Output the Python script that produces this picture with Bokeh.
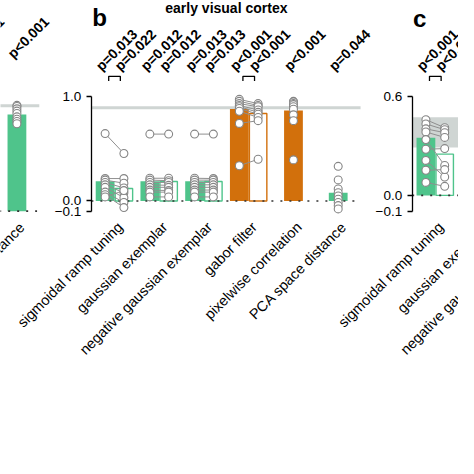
import math
from bokeh.plotting import figure
from bokeh.models import Range1d, LinearAxis, FixedTicker, CustomJSTickFormatter, ColumnDataSource
from bokeh.core.properties import value
from bokeh.embed import file_html
from bokeh.resources import INLINE

# ------------------------------------------------------------------ data
categories = ["sigmoidal ramp tuning", "gaussian exemplar", "negative gaussian exemplar",
              "gabor filter", "pixelwise correlation", "PCA space distance"]
category_family = ["green", "green", "green", "orange", "orange", "green"]

# panel b : early visual cortex
b_title = "early visual cortex"
b_bar_filled = [0.19, 0.19, 0.19, 0.881, 0.866, 0.079]
b_bar_open = [0.12, 0.187, 0.187, 0.838, None, None]
b_p_filled = ["p=0.013", "p=0.012", "p=0.013", "p<0.001", "p<0.001", "p=0.044"]
b_p_open = ["p=0.022", "p=0.012", "p=0.013", "p<0.001", None, None]
b_bracket = [True, False, False, True, False, False]
b_ceiling = (0.879, 0.907)
b_yticks = [-0.1, 0.0, 1.0]

b_sig_filled = [0.646, 0.215, 0.20, 0.178, 0.155, 0.131, 0.085, 0.06, 0.039]
b_sig_open = [0.455, 0.215, 0.171, 0.125, 0.079, 0.032, -0.014, -0.063, 0.10]
b_gauss_filled = [0.641, 0.218, 0.20, 0.178, 0.155, 0.131, 0.105, 0.085, 0.039]
b_gauss_open = [0.641, 0.218, 0.195, 0.178, 0.15, 0.131, 0.10, 0.085, 0.039]
b_neg_filled = [0.641, 0.218, 0.20, 0.178, 0.155, 0.131, 0.105, 0.085, 0.039]
b_neg_open = [0.641, 0.215, 0.20, 0.178, 0.155, 0.131, 0.105, 0.085, 0.039]
b_gabor_filled = [0.974, 0.955, 0.933, 0.915, 0.903, 0.887, 0.86, 0.743, 0.338]
b_gabor_open = [0.933, 0.915, 0.903, 0.872, 0.85, 0.831, 0.801, 0.770, 0.40]
b_pix_filled = [0.955, 0.949, 0.935, 0.924, 0.903, 0.88, 0.826, 0.770, 0.394]
b_pca_filled = [0.332, 0.202, 0.116, 0.079, 0.048, 0.017, -0.014, -0.044, -0.076]

# panel a (only its right end is in view)
a_cat_index = [4, 5]
a_bar_filled = [None, 0.84]
a_p_filled = ["p<0.001", "p<0.001"]
a_ceiling = (0.903, 0.929)
a_pca_filled = [0.92, 0.91, 0.89, 0.87, 0.85, 0.82, 0.80, 0.78, 0.76]

# panel c (only its left end is in view)
c_cat_index = [0, 1, 2]
c_bar_filled = [0.351, None, None]
c_bar_open = [0.251, None, None]
c_p_filled = ["p<0.001", None, None]
c_p_open = ["p<0.001", None, None]
c_bracket = [True, False, False]
c_ceiling = (0.292, 0.475)
c_yticks = [-0.1, 0.0, 0.6]
c_sig_filled = [0.461, 0.435, 0.405, 0.386, 0.340, 0.281, 0.213, 0.153, 0.079]
c_sig_open = [0.412, 0.40, 0.382, 0.353, 0.182, 0.285, 0.112, 0.157, 0.055]

# ------------------------------------------------------------------ layout / style
REF = 474.0
S = 458.0 / REF
DX = 46.3
B_X0 = 118.0
BAR_W = 0.42
HALF = BAR_W / 2
AXIS_GAP = 0.097
PANEL_Y = {"a": (218.0, 119.0), "default": (207.5, 108.0), "c": (201.7, 170.0)}


def ux(px):
    return (px - B_X0) / DX


def uy(rn, py):
    z, k = PANEL_Y[rn]
    return (z - py) / k


PANEL_X = {"a": ux(17.0) - 5, "default": 0.0, "c": ux(450.0)}

FONT = "Liberation Sans"
COLOR = {"green": "#4fc48b", "orange": "#d2700c"}
CEIL = "#cfd5d3"
DOT = "#333333"
PT_LINE = "#858585"
LINK = "#8f8f8f"


def fs(px):
    return f"{px * S:.2f}px"


p = figure(width=458, height=458,
           x_range=Range1d(ux(0), ux(REF)),
           y_range=Range1d(uy("default", REF), uy("default", 0)),
           output_backend="svg", toolbar_location=None,
           x_axis_location=None, y_axis_location=None,
           min_border=0, outline_line_color=None)
p.extra_y_ranges = {"a": Range1d(uy("a", REF), uy("a", 0)),
                    "c": Range1d(uy("c", REF), uy("c", 0))}
p.xgrid.visible = False
p.ygrid.visible = False


def axis_x(rn):
    return PANEL_X[rn] - BAR_W - AXIS_GAP


def draw_panel(rn, cat_idx, bar_f, bar_o, pts_f, pts_o, p_f, p_o, brackets,
               ceiling, plabel_px):
    x0 = PANEL_X[rn]
    left = axis_x(rn) if rn != "a" else ux(-20)
    right = x0 + len(categories) - 0.5
    # noise ceiling
    p.quad(left=[left], right=[right], bottom=[ceiling[0]], top=[ceiling[1]],
           fill_color=CEIL, line_color=None, y_range_name=rn)
    fb = dict(x=[], top=[], color=[])
    ob = dict(x=[], top=[], color=[])
    pts = dict(x=[], y=[])
    links = dict(x0=[], y0=[], x1=[], y1=[])
    pl = dict(x=[], y=[], t=[])
    br = dict(xs=[], ys=[])
    for k, ci in enumerate(cat_idx):
        cx = x0 + ci
        paired = bar_o is not None and bar_o[k] is not None
        xf = cx - HALF if paired else cx
        xo = cx + HALF
        col = COLOR[category_family[ci]]
        if bar_f[k] is not None:
            fb["x"].append(xf); fb["top"].append(bar_f[k]); fb["color"].append(col)
        if paired:
            ob["x"].append(xo); ob["top"].append(bar_o[k]); ob["color"].append(col)
        if pts_f[k] is not None:
            for v in pts_f[k]:
                pts["x"].append(xf); pts["y"].append(v)
        if paired and pts_o[k] is not None:
            for v0, v1 in zip(pts_f[k], pts_o[k]):
                links["x0"].append(xf); links["y0"].append(v0)
                links["x1"].append(xo); links["y1"].append(v1)
            for v in pts_o[k]:
                pts["x"].append(xo); pts["y"].append(v)
        if p_f[k] is not None:
            pl["x"].append(xf - 0.03); pl["y"].append(uy(rn, plabel_px)); pl["t"].append(p_f[k])
        if p_o is not None and p_o[k] is not None:
            pl["x"].append(xo - 0.03); pl["y"].append(uy(rn, plabel_px)); pl["t"].append(p_o[k])
        if brackets is not None and brackets[k]:
            yt, yb = uy(rn, 78.5), uy(rn, 83.3)
            br["xs"].append([cx - 0.13, cx - 0.13, cx + 0.13, cx + 0.13])
            br["ys"].append([yb, yt, yt, yb])
    p.vbar(x="x", top="top", bottom=0, width=BAR_W, fill_color="color", line_color=None,
           source=ColumnDataSource(fb), y_range_name=rn)
    if ob["x"]:
        p.vbar(x="x", top="top", bottom=0, width=BAR_W - 0.03, fill_color="white",
               line_color="color", line_width=1.4, source=ColumnDataSource(ob), y_range_name=rn)
    # dotted zero line
    p.segment(x0=[left], y0=[0], x1=[right - 0.05], y1=[0], line_color=DOT,
              line_width=1.6, line_dash="2 7", y_range_name=rn)
    if br["xs"]:
        p.multi_line(xs="xs", ys="ys", line_color="black", line_width=1.3,
                     source=ColumnDataSource(br), y_range_name=rn)
    if links["x0"]:
        p.segment(x0="x0", y0="y0", x1="x1", y1="y1", line_color=LINK, line_width=1.0,
                  source=ColumnDataSource(links), y_range_name=rn)
    p.scatter(x="x", y="y", size=8.2 * S, marker="circle", fill_color="white",
              line_color=PT_LINE, line_width=1.1, source=ColumnDataSource(pts), y_range_name=rn)
    p.text(x="x", y="y", text="t", angle=math.pi / 4, text_align="left",
           text_baseline="bottom", text_font=value(FONT), text_font_style="bold",
           text_font_size=fs(14.5), text_color="black",
           source=ColumnDataSource(pl), y_range_name=rn)
    lab = dict(x=[x0 + ci for ci in cat_idx], y=[uy(rn, 226)] * len(cat_idx),
               t=[categories[ci] for ci in cat_idx])
    p.text(x="x", y="y", text="t", angle=math.pi / 4, text_align="right",
           text_baseline="top", text_font=value(FONT), text_font_size=fs(15),
           text_color="black", source=ColumnDataSource(lab), y_range_name=rn)


def add_axis(rn, ticks):
    ax = LinearAxis(y_range_name=rn, fixed_location=axis_x(rn),
                    ticker=FixedTicker(ticks=ticks),
                    formatter=CustomJSTickFormatter(code="return tick.toFixed(1).replace('-', '\u2212')"),
                    bounds=(min(ticks), max(ticks)))
    ax.major_tick_out = 5
    ax.major_tick_in = 0
    ax.minor_tick_line_color = None
    ax.axis_line_width = 1.3
    ax.major_tick_line_width = 1.3
    ax.major_label_standoff = 5
    ax.major_label_text_font = FONT
    ax.major_label_text_font_size = fs(14)
    ax.major_label_text_color = "black"
    p.add_layout(ax, "left")


# panel a
draw_panel("a", a_cat_index, a_bar_filled, None, [None, a_pca_filled], None,
           a_p_filled, None, None, a_ceiling, 63)
# panel b
draw_panel("default", list(range(6)), b_bar_filled, b_bar_open,
           [b_sig_filled, b_gauss_filled, b_neg_filled, b_gabor_filled, b_pix_filled, b_pca_filled],
           [b_sig_open, b_gauss_open, b_neg_open, b_gabor_open, None, None],
           b_p_filled, b_p_open, b_bracket, b_ceiling, 76)
add_axis("default", b_yticks)
# panel c
draw_panel("c", c_cat_index, c_bar_filled, c_bar_open,
           [c_sig_filled, None, None], [c_sig_open, None, None],
           c_p_filled, c_p_open, c_bracket, c_ceiling, 76)
add_axis("c", c_yticks)

# title and panel letters
p.text(x=[PANEL_X["default"] + 2.5], y=[uy("default", 7.7)], text=[b_title],
       text_align="center", text_baseline="alphabetic", text_font=value(FONT),
       text_font_style="bold", text_font_size=fs(14.5), text_color="black")
p.text(x=[axis_x("default") + 0.02], y=[uy("default", 18)], text=["b"],
       text_align="left", text_baseline="alphabetic", text_font=value(FONT),
       text_font_style="bold", text_font_size=fs(25), text_color="black")
p.text(x=[axis_x("c") + 0.02], y=[uy("c", 18.3)], text=["c"], y_range_name="c",
       text_align="left", text_baseline="alphabetic", text_font=value(FONT),
       text_font_style="bold", text_font_size=fs(25), text_color="black")

open("out.html", "w").write(file_html(p, INLINE))
